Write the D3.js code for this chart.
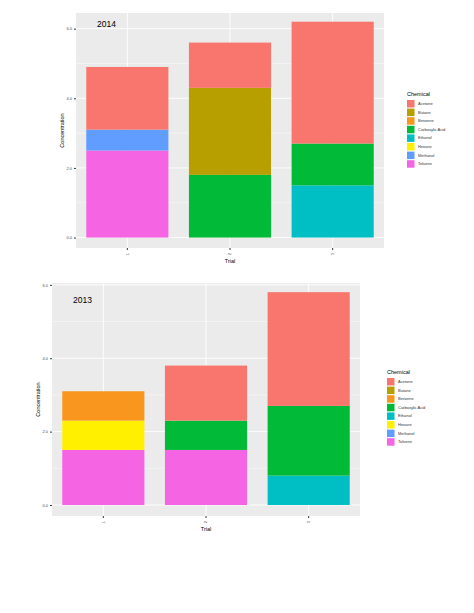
<!DOCTYPE html>
<html><head><meta charset="utf-8">
<script src="https://cdn.jsdelivr.net/npm/d3@7"></script>
<style>body{margin:0;background:#fff}svg{display:block;font-family:"Liberation Sans",Arial,sans-serif}</style>
</head><body><svg id="chart" width="474" height="613"></svg>
<script>
const chemicals = ["Acetone","Butane","Benzene","Carboxylic Acid","Ethanol","Hexane","Methanol","Toluene"];
const chemColors = ["#F8766D","#B79F00","#F8961E","#00BA38","#00BFC4","#FFF000","#619CFF","#F564E3"];
const trials = ["1","2","3"];
const yTicks = [0,2,4,6];

// values per trial, in chemical order
const values2014 = [
  {trial:"1", Acetone:1.8, Butane:0, Benzene:0, "Carboxylic Acid":0, Ethanol:0, Hexane:0, Methanol:0.6, Toluene:2.5},
  {trial:"2", Acetone:1.3, Butane:2.5, Benzene:0, "Carboxylic Acid":1.8, Ethanol:0, Hexane:0, Methanol:0, Toluene:0},
  {trial:"3", Acetone:3.5, Butane:0, Benzene:0, "Carboxylic Acid":1.2, Ethanol:1.5, Hexane:0, Methanol:0, Toluene:0}
];
const values2013 = [
  {trial:"1", Acetone:0, Butane:0, Benzene:0.8, "Carboxylic Acid":0, Ethanol:0, Hexane:0.8, Methanol:0, Toluene:1.5},
  {trial:"2", Acetone:1.5, Butane:0, Benzene:0, "Carboxylic Acid":0.8, Ethanol:0, Hexane:0, Methanol:0, Toluene:1.5},
  {trial:"3", Acetone:3.1, Butane:0, Benzene:0, "Carboxylic Acid":1.9, Ethanol:0.8, Hexane:0, Methanol:0, Toluene:0}
];

const svg = d3.select("#chart");
const color = d3.scaleOrdinal(chemicals, chemColors);

function drawPanel(cfg) {
  const g = svg.append("g");
  const x = d3.scaleBand().domain(trials).range([cfg.left, cfg.right]).paddingInner(0.2).paddingOuter(0.1);
  const y = d3.scaleLinear().domain(cfg.ydomain).range([cfg.bottom, cfg.top]);

  g.append("rect").attr("x", cfg.left).attr("y", cfg.top)
    .attr("width", cfg.right - cfg.left).attr("height", cfg.bottom - cfg.top).attr("fill", "#EBEBEB");

  const minor = [1,3,5];
  g.selectAll("line.minor").data(minor).join("line")
    .attr("x1", cfg.left).attr("x2", cfg.right).attr("y1", d => y(d)).attr("y2", d => y(d))
    .attr("stroke", "#fff").attr("stroke-width", 0.4);
  g.selectAll("line.major").data(yTicks).join("line")
    .attr("x1", cfg.left).attr("x2", cfg.right).attr("y1", d => y(d)).attr("y2", d => y(d))
    .attr("stroke", "#fff").attr("stroke-width", 0.9);
  g.selectAll("line.vx").data(trials).join("line")
    .attr("x1", d => x(d) + x.bandwidth()/2).attr("x2", d => x(d) + x.bandwidth()/2)
    .attr("y1", cfg.top).attr("y2", cfg.bottom).attr("stroke", "#fff").attr("stroke-width", 0.9);

  const stack = d3.stack().keys(chemicals.slice().reverse());
  const series = stack(cfg.data);
  g.selectAll("g.series").data(series).join("g")
    .attr("fill", d => color(d.key))
    .selectAll("rect").data(d => d.filter(s => s[1] > s[0])).join("rect")
    .attr("x", d => x(d.data.trial)).attr("width", x.bandwidth())
    .attr("y", d => y(d[1])).attr("height", d => y(d[0]) - y(d[1]));

  const ya = g.append("g").attr("transform", `translate(${cfg.left},0)`)
    .call(d3.axisLeft(y).tickValues(yTicks).tickSize(2).tickPadding(2));
  ya.select(".domain").remove();
  ya.selectAll("text").attr("font-size", 4).attr("fill", "#4D4D4D");
  ya.selectAll("line").attr("stroke", "#333");

  const xa = g.append("g").attr("transform", `translate(0,${cfg.bottom})`)
    .call(d3.axisBottom(x).tickSize(2).tickPadding(2));
  xa.select(".domain").remove();
  xa.selectAll("line").attr("stroke", "#333");
  xa.selectAll("text").attr("font-size", 4).attr("fill", "#4D4D4D")
    .attr("transform", "rotate(-90)").attr("text-anchor", "end").attr("dy", "0.35em").attr("x", -5).attr("y", 0);

  g.append("text").attr("x", (cfg.left + cfg.right)/2).attr("y", cfg.bottom + 15)
    .attr("text-anchor", "middle").attr("font-size", 5.5).text("Trial");
  g.append("text").attr("transform", `translate(${cfg.left - 12},${(cfg.top + cfg.bottom)/2}) rotate(-90)`)
    .attr("text-anchor", "middle").attr("font-size", 5.5).text("Concentration");

  g.append("text").attr("x", cfg.labelX).attr("y", cfg.labelY).attr("font-size", 8.5).text(cfg.label);

  const lg = g.append("g").attr("transform", `translate(${cfg.legX},${cfg.legY})`);
  lg.append("text").attr("x", 0).attr("y", 0).attr("font-size", 5.5).text("Chemical");
  const items = lg.selectAll("g.item").data(chemicals).join("g")
    .attr("transform", (d, i) => `translate(0,${4 + i * 8.6})`);
  items.append("rect").attr("width", 7.5).attr("height", 7.5).attr("fill", d => color(d));
  items.append("text").attr("x", 11).attr("y", 5).attr("font-size", 4).attr("fill", "#333").text(d => d);
}

drawPanel({data: values2014, left: 76, right: 384, top: 13, bottom: 248, ydomain: [-0.3, 6.45],
  label: "2014", labelX: 97, labelY: 27, legX: 407, legY: 96});
drawPanel({data: values2013, left: 52, right: 360, top: 283, bottom: 516, ydomain: [-0.3, 6.05],
  label: "2013", labelX: 73, labelY: 303, legX: 387, legY: 374});
</script></body></html>
